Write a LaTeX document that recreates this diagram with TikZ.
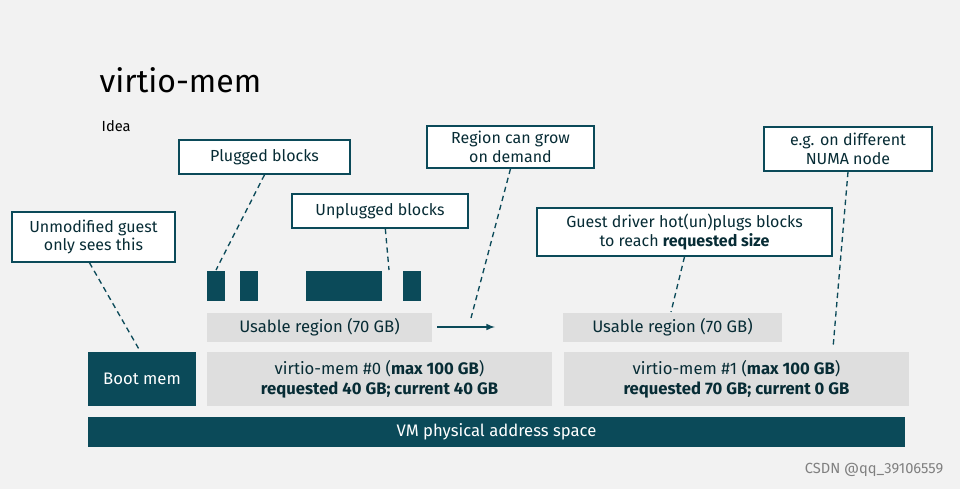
\documentclass[tikz,border=0pt]{standalone}
\usepackage{fontspec}
\setmainfont{Fira Sans}
\usetikzlibrary{positioning}
\definecolor{teal}{HTML}{0B4A59}
\definecolor{usable}{HTML}{DEDEDE}
\definecolor{bg}{HTML}{F2F2F2}
\tikzset{
  callout/.style={draw=teal,line width=1.2pt,fill=white,align=center,font=\fontsize{12}{14}\selectfont,text=teal!60!black,inner sep=0pt},
  block/.style={fill=teal,inner sep=0pt},
  grey/.style={fill=usable,inner sep=0pt,align=center,font=\fontsize{12.5}{15}\selectfont,text=teal!60!black},
  pointer/.style={draw=teal,line width=1pt,dash pattern=on 4pt off 3pt}
}
\begin{document}
\begin{tikzpicture}[x=0.75pt,y=-0.75pt]
\fill[bg] (0,0) rectangle (960,489);
\useasboundingbox (0,0) rectangle (960,489);
% title
\node[anchor=west,font=\fontsize{24}{28}\selectfont,text=black](title) at (95,80){virtio-mem};
\node[anchor=west,font=\fontsize{11}{13}\selectfont](idea) at (97,126){Idea};
% callouts
\node[callout,minimum width=171*0.75pt,minimum height=34*0.75pt](plugged) at (264.5,157){Plugged blocks};
\node[callout,minimum width=176*0.75pt,minimum height=34*0.75pt](unplugged) at (380,211){Unplugged blocks};
\node[callout,minimum width=163*0.75pt,minimum height=50*0.75pt](guest) at (93.5,237){Unmodified guest\\only sees this};
\node[callout,minimum width=167*0.75pt,minimum height=42*0.75pt](grow) at (510.5,147){Region can grow\\on demand};
\node[callout,minimum width=295*0.75pt,minimum height=48*0.75pt](driver) at (684.5,232){Guest driver hot(un)plugs blocks\\to reach \textbf{requested size}};
\node[callout,minimum width=168*0.75pt,minimum height=44*0.75pt](numa) at (848,149){e.g. on different\\NUMA node};
% memory blocks
\node[block,minimum width=18*0.75pt,minimum height=30*0.75pt](b1) at (216,286){};
\node[block,minimum width=18*0.75pt,minimum height=30*0.75pt](b2) at (249,286){};
\node[block,minimum width=76*0.75pt,minimum height=30*0.75pt](b3) at (344,286){};
\node[block,minimum width=18*0.75pt,minimum height=30*0.75pt](b4) at (412,286){};
% regions
\node[grey,minimum width=225*0.75pt,minimum height=29*0.75pt](usable0) at (319.5,327.5){Usable region (70 GB)};
\node[grey,minimum width=219*0.75pt,minimum height=29*0.75pt](usable1) at (672.5,327.5){Usable region (70 GB)};
\node[block,minimum width=108*0.75pt,minimum height=54*0.75pt,text=white,font=\fontsize{12.5}{15}\selectfont](boot) at (142,379){Boot mem};
\node[grey,minimum width=345*0.75pt,minimum height=54*0.75pt](vm0) at (379.5,379){virtio-mem \#0 (\textbf{max 100 GB})\\\textbf{requested 40 GB; current 40 GB}};
\node[grey,minimum width=345*0.75pt,minimum height=54*0.75pt](vm1) at (736.5,379){virtio-mem \#1 (\textbf{max 100 GB})\\\textbf{requested 70 GB; current 0 GB}};
\node[block,minimum width=817*0.75pt,minimum height=30*0.75pt,text=white,font=\fontsize{12.5}{15}\selectfont](space) at (496.5,432){VM physical address space};
% arrow
\coordinate(growstart) at (437,327);
\coordinate(growend) at (495,327);
\draw[teal,line width=1.2pt,-latex](growstart)--(growend);
% pointers
\coordinate(pplug) at (216,270);
\coordinate(punplug) at (389,270);
\coordinate(pboot) at (140,351);
\coordinate(pgrow) at (471,318);
\coordinate(pdriver) at (671,312);
\coordinate(pnuma) at (833,348);
\draw[pointer](plugged.south)--(pplug);
\draw[pointer]([xshift=4pt]unplugged.south)--(punplug);
\draw[pointer]([xshift=-3pt]guest.south)--(pboot);
\draw[pointer](grow.south)--(pgrow);
\draw[pointer](driver.south)--(pdriver);
\draw[pointer](numa.south)--(pnuma);
\node[anchor=east,text=gray,font=\fontsize{11}{13}\selectfont](mark) at (948,470){CSDN @qq\_39106559};
\end{tikzpicture}
\end{document}
